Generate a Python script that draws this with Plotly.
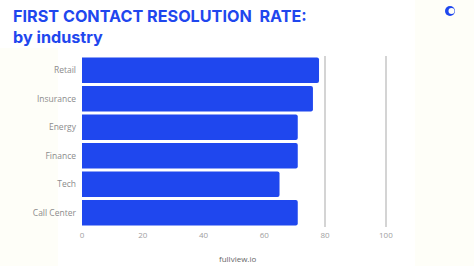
import plotly.graph_objects as go

industries = ["Retail", "Insurance", "Energy", "Finance", "Tech", "Call Center"]
rates = [78, 76, 71, 71, 65, 71]
x_ticks = [0, 20, 40, 60, 80, 100]
grid_ticks = [80, 100]

BLUE = "#1f47ee"
CREAM = "#fefef8"
W, H = 474, 266

fig = go.Figure(go.Bar(
    y=industries, x=rates, orientation="h",
    marker=dict(color=BLUE, line=dict(width=0)),
    width=0.9,
))

ml, mr, mt, mb = 82, 86, 56, 39
XR = [0, 100.7]

fig.update_layout(
    width=W, height=H,
    margin=dict(l=ml, r=mr, t=mt, b=mb),
    paper_bgcolor="white", plot_bgcolor="white",
    barcornerradius=2,
    showlegend=False,
    xaxis=dict(range=XR, tickvals=x_ticks, showgrid=False,
               zeroline=False, showline=False,
               tickfont=dict(family="Open Sans", size=8, color="#a0a0a0"),
               ticks="", ticklabelstandoff=2),
    xaxis2=dict(range=XR, tickvals=grid_ticks, overlaying="x", side="bottom",
                showgrid=True, gridcolor="#d4d4d4", gridwidth=1.5,
                showticklabels=False, zeroline=False, showline=False, ticks=""),
    yaxis=dict(categoryorder="array", categoryarray=industries[::-1],
               showgrid=False, zeroline=False, showline=False, ticks="",
               tickfont=dict(family="Open Sans", size=8.5, color="#8c8c8c"),
               ticklabelstandoff=5),
    font=dict(family="Open Sans"),
)
# dummy invisible trace to activate xaxis2
fig.add_trace(go.Scatter(x=[None], y=[None], xaxis="x2", yaxis="y",
                         mode="markers", hoverinfo="skip", showlegend=False))

def px(x):
    return (x - ml) / (W - ml - mr)
def py(y):
    return (H - y - mb) / (H - mt - mb)

# faint cream side panels
fig.add_shape(type="rect", xref="paper", yref="paper", layer="below",
              x0=px(0), x1=px(58), y0=py(H), y1=py(48),
              fillcolor=CREAM, line=dict(width=0))
fig.add_shape(type="rect", xref="paper", yref="paper", layer="below",
              x0=px(415), x1=px(W), y0=py(H), y1=py(0),
              fillcolor=CREAM, line=dict(width=0))

fig.add_annotation(text="<b>FIRST CONTACT RESOLUTION  RATE:</b><br><b>by industry</b>",
                   xref="paper", yref="paper",
                   x=px(11), y=py(4),
                   xanchor="left", yanchor="top", align="left", showarrow=False,
                   font=dict(family="Inter", size=16.2, color=BLUE))

fig.add_annotation(text="fullview.io", xref="paper", yref="paper",
                   x=px(237), y=py(258),
                   xanchor="center", yanchor="middle", showarrow=False,
                   font=dict(family="Open Sans", size=8, color="#666666"))

# logo (crescent)
cx, cy = 450, 11
fig.add_shape(type="circle", xref="paper", yref="paper",
              x0=px(cx - 5), x1=px(cx + 5), y0=py(cy + 5), y1=py(cy - 5),
              fillcolor=BLUE, line=dict(width=0))
fig.add_shape(type="circle", xref="paper", yref="paper",
              x0=px(cx - 1.5), x1=px(cx + 4.5), y0=py(cy + 3), y1=py(cy - 3),
              fillcolor=CREAM, line=dict(width=0))

fig.write_html("out.html")
